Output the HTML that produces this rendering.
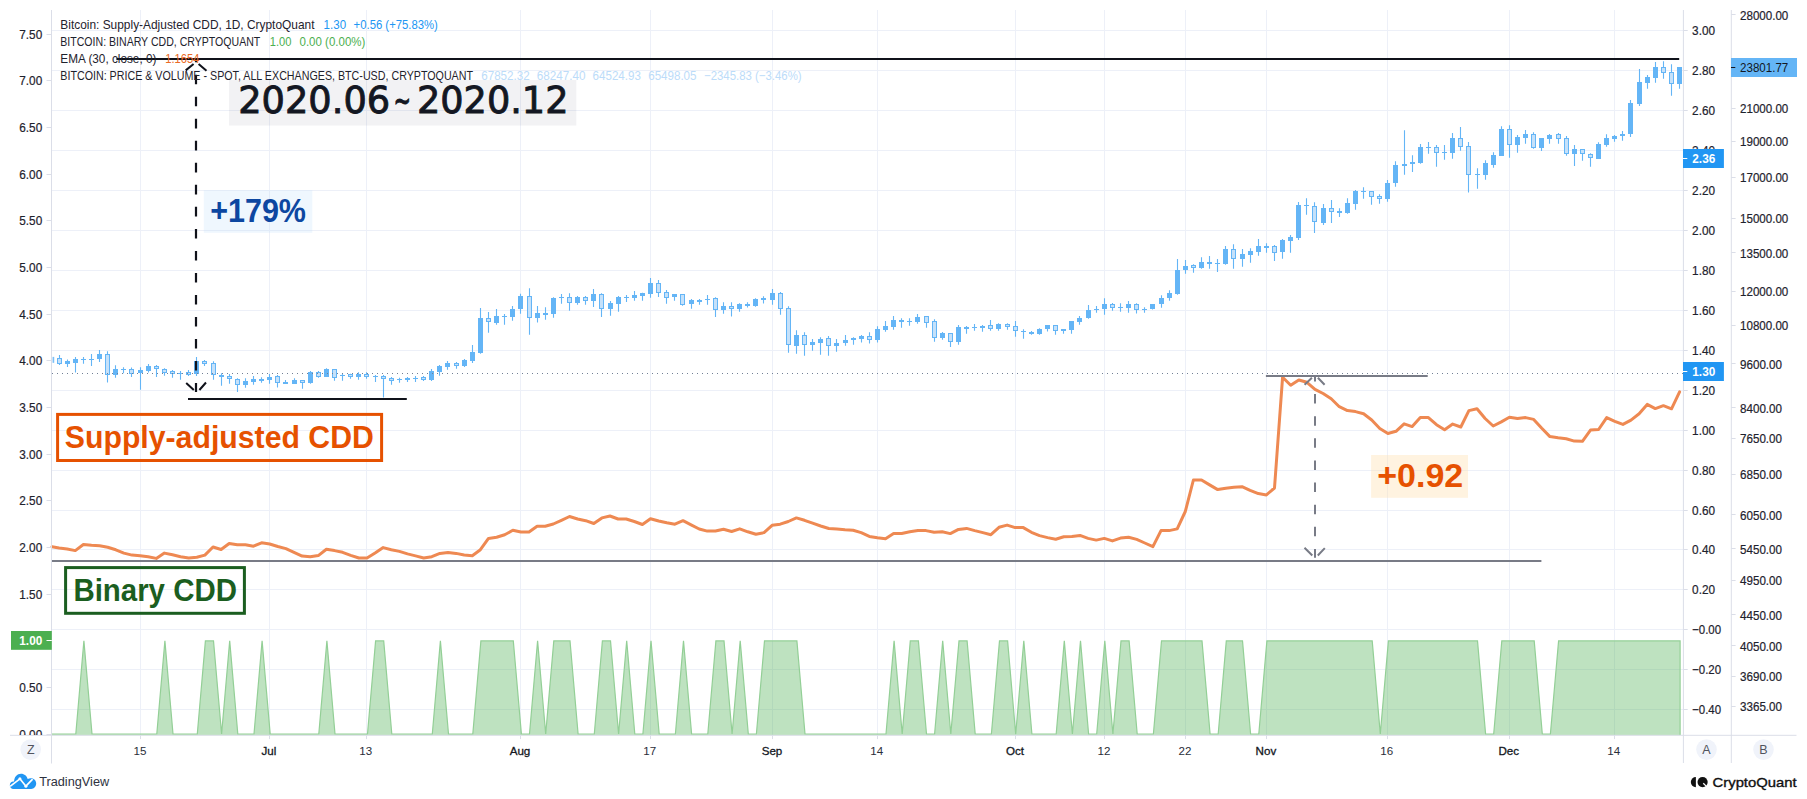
<!DOCTYPE html>
<html lang="en"><head><meta charset="utf-8"><title>Bitcoin: Supply-Adjusted CDD</title>
<style>
html,body{margin:0;padding:0;background:#fff;}
body{width:1807px;height:799px;overflow:hidden;position:relative;font-family:'Liberation Sans', Arial, sans-serif;}
svg{position:absolute;left:0;top:0;display:block}
text{font-family:'Liberation Sans', Arial, sans-serif;}
.ax{font-size:12.6px;fill:#1e222d;stroke:#1e222d;stroke-width:0.2px;}
.lg{font-size:11.5px;fill:#2a2e39;}
</style></head><body>
<svg width="1807" height="799" viewBox="0 0 1807 799">
<rect width="1807" height="799" fill="#fff"/>

<path d="M51.5 30.5H1683.4M51.5 70.5H1683.4M51.5 110.5H1683.4M51.5 150.5H1683.4M51.5 190.5H1683.4M51.5 230.5H1683.4M51.5 270.5H1683.4M51.5 310.5H1683.4M51.5 350.5H1683.4M51.5 390.5H1683.4M51.5 430.5H1683.4M51.5 470.5H1683.4M51.5 510.5H1683.4M51.5 549.5H1683.4M51.5 589.5H1683.4M51.5 629.5H1683.4M51.5 669.5H1683.4M51.5 709.5H1683.4M140.5 10V735.3M269.5 10V735.3M366.5 10V735.3M520.5 10V735.3M650.5 10V735.3M772.5 10V735.3M877.5 10V735.3M1015.5 10V735.3M1104.5 10V735.3M1185.5 10V735.3M1266.5 10V735.3M1387.5 10V735.3M1509.5 10V735.3M1614.5 10V735.3" stroke="#edf0f8" stroke-width="1" fill="none"/>
<path d="M52.0 734.0 L59.6 734.0 L67.7 734.0 L75.8 734.0 L83.9 640.9 L92.0 734.0 L100.1 734.0 L108.2 734.0 L116.3 734.0 L124.4 734.0 L132.5 734.0 L140.6 734.0 L148.7 734.0 L156.8 734.0 L164.9 640.9 L173.0 734.0 L181.1 734.0 L189.2 734.0 L197.3 734.0 L205.4 640.9 L213.5 640.9 L221.6 734.0 L229.7 640.9 L237.8 734.0 L245.9 734.0 L254.0 734.0 L262.1 640.9 L270.2 734.0 L278.3 734.0 L286.4 734.0 L294.5 734.0 L302.6 734.0 L310.7 734.0 L318.8 734.0 L326.9 640.9 L335.0 734.0 L343.1 734.0 L351.2 734.0 L359.4 734.0 L367.5 734.0 L375.6 640.9 L383.7 640.9 L391.8 734.0 L399.9 734.0 L408.0 734.0 L416.1 734.0 L424.2 734.0 L432.3 734.0 L440.4 640.9 L448.5 734.0 L456.6 734.0 L464.7 734.0 L472.8 734.0 L480.9 640.9 L489.0 640.9 L497.1 640.9 L505.2 640.9 L513.3 640.9 L521.4 734.0 L529.5 734.0 L537.6 640.9 L545.7 734.0 L553.8 640.9 L561.9 640.9 L570.0 640.9 L578.1 734.0 L586.2 734.0 L594.3 734.0 L602.4 640.9 L610.5 640.9 L618.6 734.0 L626.7 640.9 L634.8 734.0 L642.9 734.0 L651.0 640.9 L659.2 734.0 L667.3 734.0 L675.4 734.0 L683.5 640.9 L691.6 734.0 L699.7 734.0 L707.8 734.0 L715.9 640.9 L724.0 640.9 L732.1 734.0 L740.2 640.9 L748.3 734.0 L756.4 734.0 L764.5 640.9 L772.6 640.9 L780.7 640.9 L788.8 640.9 L796.9 640.9 L805.0 734.0 L813.1 734.0 L821.2 734.0 L829.3 734.0 L837.4 734.0 L845.5 734.0 L853.6 734.0 L861.7 734.0 L869.8 734.0 L877.9 734.0 L886.0 734.0 L894.1 640.9 L902.2 734.0 L910.3 640.9 L918.4 640.9 L926.5 734.0 L934.6 734.0 L942.7 640.9 L950.8 734.0 L959.0 640.9 L967.1 640.9 L975.2 734.0 L983.3 734.0 L991.4 734.0 L999.5 640.9 L1007.6 640.9 L1015.7 734.0 L1023.8 640.9 L1031.9 734.0 L1040.0 734.0 L1048.1 734.0 L1056.2 734.0 L1064.3 640.9 L1072.4 734.0 L1080.5 640.9 L1088.6 734.0 L1096.7 734.0 L1104.8 640.9 L1112.9 734.0 L1121.0 640.9 L1129.1 640.9 L1137.2 734.0 L1145.3 734.0 L1153.4 734.0 L1161.5 640.9 L1169.6 640.9 L1177.7 640.9 L1185.8 640.9 L1193.9 640.9 L1202.0 640.9 L1210.1 734.0 L1218.2 734.0 L1226.3 640.9 L1234.4 640.9 L1242.5 640.9 L1250.6 734.0 L1258.8 734.0 L1266.9 640.9 L1275.0 640.9 L1283.1 640.9 L1291.2 640.9 L1299.3 640.9 L1307.4 640.9 L1315.5 640.9 L1323.6 640.9 L1331.7 640.9 L1339.8 640.9 L1347.9 640.9 L1356.0 640.9 L1364.1 640.9 L1372.2 640.9 L1380.3 734.0 L1388.4 640.9 L1396.5 640.9 L1404.6 640.9 L1412.7 640.9 L1420.8 640.9 L1428.9 640.9 L1437.0 640.9 L1445.1 640.9 L1453.2 640.9 L1461.3 640.9 L1469.4 640.9 L1477.5 640.9 L1485.6 734.0 L1493.7 734.0 L1501.8 640.9 L1509.9 640.9 L1518.0 640.9 L1526.1 640.9 L1534.2 640.9 L1542.3 734.0 L1550.4 734.0 L1558.6 640.9 L1566.7 640.9 L1574.8 640.9 L1582.9 640.9 L1591.0 640.9 L1599.1 640.9 L1607.2 640.9 L1615.3 640.9 L1623.4 640.9 L1631.5 640.9 L1639.6 640.9 L1647.7 640.9 L1655.8 640.9 L1663.9 640.9 L1672.0 640.9 L1680.1 640.9 L1680.1 735.2 L52.0 735.2Z" fill="#4caf50" fill-opacity="0.36" stroke="none"/>
<path d="M52.0 734.0 L59.6 734.0 L67.7 734.0 L75.8 734.0 L83.9 640.9 L92.0 734.0 L100.1 734.0 L108.2 734.0 L116.3 734.0 L124.4 734.0 L132.5 734.0 L140.6 734.0 L148.7 734.0 L156.8 734.0 L164.9 640.9 L173.0 734.0 L181.1 734.0 L189.2 734.0 L197.3 734.0 L205.4 640.9 L213.5 640.9 L221.6 734.0 L229.7 640.9 L237.8 734.0 L245.9 734.0 L254.0 734.0 L262.1 640.9 L270.2 734.0 L278.3 734.0 L286.4 734.0 L294.5 734.0 L302.6 734.0 L310.7 734.0 L318.8 734.0 L326.9 640.9 L335.0 734.0 L343.1 734.0 L351.2 734.0 L359.4 734.0 L367.5 734.0 L375.6 640.9 L383.7 640.9 L391.8 734.0 L399.9 734.0 L408.0 734.0 L416.1 734.0 L424.2 734.0 L432.3 734.0 L440.4 640.9 L448.5 734.0 L456.6 734.0 L464.7 734.0 L472.8 734.0 L480.9 640.9 L489.0 640.9 L497.1 640.9 L505.2 640.9 L513.3 640.9 L521.4 734.0 L529.5 734.0 L537.6 640.9 L545.7 734.0 L553.8 640.9 L561.9 640.9 L570.0 640.9 L578.1 734.0 L586.2 734.0 L594.3 734.0 L602.4 640.9 L610.5 640.9 L618.6 734.0 L626.7 640.9 L634.8 734.0 L642.9 734.0 L651.0 640.9 L659.2 734.0 L667.3 734.0 L675.4 734.0 L683.5 640.9 L691.6 734.0 L699.7 734.0 L707.8 734.0 L715.9 640.9 L724.0 640.9 L732.1 734.0 L740.2 640.9 L748.3 734.0 L756.4 734.0 L764.5 640.9 L772.6 640.9 L780.7 640.9 L788.8 640.9 L796.9 640.9 L805.0 734.0 L813.1 734.0 L821.2 734.0 L829.3 734.0 L837.4 734.0 L845.5 734.0 L853.6 734.0 L861.7 734.0 L869.8 734.0 L877.9 734.0 L886.0 734.0 L894.1 640.9 L902.2 734.0 L910.3 640.9 L918.4 640.9 L926.5 734.0 L934.6 734.0 L942.7 640.9 L950.8 734.0 L959.0 640.9 L967.1 640.9 L975.2 734.0 L983.3 734.0 L991.4 734.0 L999.5 640.9 L1007.6 640.9 L1015.7 734.0 L1023.8 640.9 L1031.9 734.0 L1040.0 734.0 L1048.1 734.0 L1056.2 734.0 L1064.3 640.9 L1072.4 734.0 L1080.5 640.9 L1088.6 734.0 L1096.7 734.0 L1104.8 640.9 L1112.9 734.0 L1121.0 640.9 L1129.1 640.9 L1137.2 734.0 L1145.3 734.0 L1153.4 734.0 L1161.5 640.9 L1169.6 640.9 L1177.7 640.9 L1185.8 640.9 L1193.9 640.9 L1202.0 640.9 L1210.1 734.0 L1218.2 734.0 L1226.3 640.9 L1234.4 640.9 L1242.5 640.9 L1250.6 734.0 L1258.8 734.0 L1266.9 640.9 L1275.0 640.9 L1283.1 640.9 L1291.2 640.9 L1299.3 640.9 L1307.4 640.9 L1315.5 640.9 L1323.6 640.9 L1331.7 640.9 L1339.8 640.9 L1347.9 640.9 L1356.0 640.9 L1364.1 640.9 L1372.2 640.9 L1380.3 734.0 L1388.4 640.9 L1396.5 640.9 L1404.6 640.9 L1412.7 640.9 L1420.8 640.9 L1428.9 640.9 L1437.0 640.9 L1445.1 640.9 L1453.2 640.9 L1461.3 640.9 L1469.4 640.9 L1477.5 640.9 L1485.6 734.0 L1493.7 734.0 L1501.8 640.9 L1509.9 640.9 L1518.0 640.9 L1526.1 640.9 L1534.2 640.9 L1542.3 734.0 L1550.4 734.0 L1558.6 640.9 L1566.7 640.9 L1574.8 640.9 L1582.9 640.9 L1591.0 640.9 L1599.1 640.9 L1607.2 640.9 L1615.3 640.9 L1623.4 640.9 L1631.5 640.9 L1639.6 640.9 L1647.7 640.9 L1655.8 640.9 L1663.9 640.9 L1672.0 640.9 L1680.1 640.9 L1680.1 735.0" fill="none" stroke="#93cf96" stroke-width="1.2" stroke-linejoin="miter"/>
<path d="M59.5 355.0V365.0M67.5 359.4V366.9M75.5 356.9V372.5M83.5 356.9V363.8M91.5 354.0V366.0M99.5 350.0V361.9M107.5 351.3V382.6M115.5 365.3V377.8M123.5 367.3V373.2M131.5 367.5V376.9M140.5 367.3V389.8M148.5 364.0V372.5M156.5 365.0V376.9M164.5 368.2V375.7M172.5 370.0V377.8M180.5 371.0V379.8M188.5 370.0V376.1M196.5 356.9V376.1M204.5 360.0V366.0M213.5 361.3V379.8M221.5 373.2V385.7M229.5 374.0V383.8M237.5 378.2V391.9M245.5 378.2V387.8M253.5 376.1V384.8M261.5 377.3V382.8M269.5 374.0V383.8M277.5 375.1V387.6M285.5 380.1V383.6M294.5 378.2V383.6M302.5 380.1V388.8M310.5 371.1V383.8M318.5 371.1V377.8M326.5 368.2V376.6M334.5 369.2V380.7M342.5 373.2V380.7M350.5 373.8V378.8M358.5 372.3V379.8M366.5 372.3V378.8M375.5 375.1V382.0M383.5 375.1V397.6M391.5 377.0V384.8M399.5 377.8V382.8M407.5 377.0V382.0M415.5 376.1V382.0M423.5 376.1V381.1M431.5 369.1V381.1M439.5 365.1V375.7M447.5 361.1V369.8M456.5 361.9V368.8M464.5 359.1V366.9M472.5 345.1V362.9M480.5 308.1V353.8M488.5 312.1V332.8M496.5 309.0V324.8M504.5 314.1V324.8M512.5 306.1V320.7M520.5 293.8V313.8M529.5 288.2V334.8M537.5 306.1V322.6M545.5 307.2V319.8M553.5 297.2V317.8M561.5 294.0V303.8M569.5 293.2V310.7M577.5 296.0V304.8M585.5 296.0V304.8M593.5 289.0V306.9M601.5 293.2V316.9M610.5 301.0V315.7M618.5 296.0V311.7M626.5 295.0V301.9M634.5 291.0V300.7M642.5 292.8V300.7M650.5 278.1V297.8M658.5 280.0V296.9M666.5 290.0V303.8M674.5 294.0V300.7M682.5 294.0V305.7M691.5 299.0V308.8M699.5 299.0V304.8M707.5 295.0V304.8M715.5 297.2V316.9M723.5 302.2V313.8M731.5 302.3V316.6M739.5 303.2V311.7M747.5 302.3V307.5M755.5 298.2V306.7M763.5 296.3V303.5M772.5 289.1V304.7M780.5 292.1V314.7M788.5 306.3V352.8M796.5 330.3V353.8M804.5 332.2V355.7M812.5 339.1V350.7M820.5 337.2V354.7M828.5 336.1V355.7M836.5 339.1V351.7M845.5 335.1V345.7M853.5 337.2V344.7M861.5 335.1V342.6M869.5 332.2V343.6M877.5 326.3V342.6M885.5 321.1V331.7M893.5 316.1V329.7M901.5 318.2V327.8M909.5 318.2V325.7M917.5 314.0V323.8M926.5 316.3V327.8M934.5 319.2V341.7M942.5 331.9V339.7M950.5 333.5V347.0M958.5 325.1V344.8M966.5 326.1V333.8M974.5 324.1V330.7M982.5 325.1V331.7M990.5 320.1V330.7M998.5 323.2V330.7M1007.5 323.2V329.7M1015.5 321.1V336.7M1023.5 329.2V338.8M1031.5 331.1V334.8M1039.5 328.2V334.8M1047.5 325.3V331.6M1055.5 325.3V334.7M1063.5 329.5V333.8M1071.5 321.1V333.8M1079.5 316.1V324.7M1088.5 305.1V318.8M1096.5 306.1V312.8M1104.5 298.2V314.8M1112.5 302.9V310.7M1120.5 303.2V311.7M1128.5 301.1V312.8M1136.5 303.2V313.6M1144.5 307.3V312.8M1152.5 304.4V309.4M1161.5 295.3V307.8M1169.5 290.3V300.7M1177.5 259.1V294.8M1185.5 260.1V273.8M1193.5 264.2V272.8M1201.5 257.2V268.8M1209.5 256.1V268.8M1217.5 259.1V271.9M1225.5 246.0V264.8M1233.5 244.2V268.8M1242.5 249.0V266.7M1250.5 248.2V262.8M1258.5 239.0V255.7M1266.5 243.2V252.8M1274.5 245.0V260.9M1282.5 239.0V258.8M1290.5 235.0V252.8M1298.5 202.0V239.9M1306.5 198.2V214.8M1314.5 202.2V232.9M1323.5 204.1V224.9M1331.5 200.1V223.0M1339.5 208.2V217.0M1347.5 198.2V213.8M1355.5 190.1V209.8M1363.5 187.2V198.8M1371.5 191.3V204.7M1379.5 194.2V203.8M1387.5 180.1V201.7M1395.5 161.3V186.7M1404.5 130.3V174.8M1412.5 155.3V171.9M1420.5 144.1V163.8M1428.5 142.1V153.8M1436.5 145.0V166.7M1444.5 145.0V159.8M1452.5 133.1V158.8M1460.5 127.1V150.7M1468.5 142.1V192.6M1477.5 168.2V188.8M1485.5 160.3V179.7M1493.5 152.2V167.8M1501.5 126.3V155.7M1509.5 125.3V157.8M1517.5 135.1V152.8M1525.5 130.0V143.8M1533.5 132.2V148.8M1541.5 138.2V150.9M1549.5 134.0V143.8M1558.5 132.9V143.8M1566.5 136.1V155.7M1574.5 145.1V166.0M1582.5 149.4V160.7M1590.5 153.2V166.7M1598.5 142.2V158.6M1606.5 134.2V146.7M1614.5 135.1V141.7M1622.5 131.0V140.7M1630.5 100.1V137.0M1639.5 69.0V105.9M1647.5 75.0V88.8M1655.5 62.1V82.8M1663.5 61.3V78.8M1671.5 64.2V95.7M1679.5 67.2V88.8" stroke="#64b5f6" stroke-width="1.1" fill="none"/>
<g fill="#64b5f6"><rect x="65.0" y="361.0" width="5" height="3.0"/><rect x="73.0" y="359.0" width="5" height="4.0"/><rect x="81.0" y="359.0" width="5" height="1.0"/><rect x="89.0" y="359.0" width="5" height="1.0"/><rect x="97.0" y="354.0" width="5" height="5.0"/><rect x="113.0" y="369.0" width="5" height="6.0"/><rect x="121.0" y="369.0" width="5" height="1.0"/><rect x="138.0" y="370.0" width="5" height="3.0"/><rect x="146.0" y="366.0" width="5" height="5.0"/><rect x="178.0" y="373.0" width="5" height="1.0"/><rect x="194.0" y="361.0" width="5" height="13.0"/><rect x="243.0" y="381.0" width="5" height="4.0"/><rect x="251.0" y="379.0" width="5" height="3.0"/><rect x="267.0" y="377.0" width="5" height="3.0"/><rect x="283.0" y="382.0" width="5" height="2.0"/><rect x="292.0" y="380.0" width="5" height="4.0"/><rect x="308.0" y="372.0" width="5" height="11.0"/><rect x="324.0" y="369.0" width="5" height="8.0"/><rect x="340.0" y="375.0" width="5" height="1.0"/><rect x="356.0" y="374.0" width="5" height="3.0"/><rect x="373.0" y="376.0" width="5" height="1.0"/><rect x="397.0" y="379.0" width="5" height="1.0"/><rect x="405.0" y="378.0" width="5" height="2.0"/><rect x="413.0" y="378.0" width="5" height="1.0"/><rect x="429.0" y="371.0" width="5" height="9.0"/><rect x="437.0" y="366.0" width="5" height="6.0"/><rect x="445.0" y="363.0" width="5" height="4.0"/><rect x="462.0" y="360.0" width="5" height="6.0"/><rect x="470.0" y="352.0" width="5" height="9.0"/><rect x="478.0" y="318.0" width="5" height="35.0"/><rect x="494.0" y="316.0" width="5" height="7.0"/><rect x="502.0" y="316.0" width="5" height="1.0"/><rect x="510.0" y="309.0" width="5" height="8.0"/><rect x="518.0" y="296.0" width="5" height="13.0"/><rect x="535.0" y="313.0" width="5" height="5.0"/><rect x="543.0" y="313.0" width="5" height="2.0"/><rect x="551.0" y="298.0" width="5" height="16.0"/><rect x="559.0" y="297.0" width="5" height="1.0"/><rect x="575.0" y="297.0" width="5" height="6.0"/><rect x="591.0" y="294.0" width="5" height="7.0"/><rect x="608.0" y="303.0" width="5" height="6.0"/><rect x="616.0" y="297.0" width="5" height="7.0"/><rect x="624.0" y="297.0" width="5" height="1.0"/><rect x="632.0" y="295.0" width="5" height="3.0"/><rect x="640.0" y="293.0" width="5" height="3.0"/><rect x="648.0" y="283.0" width="5" height="11.0"/><rect x="672.0" y="294.0" width="5" height="3.0"/><rect x="689.0" y="300.0" width="5" height="4.0"/><rect x="697.0" y="300.0" width="5" height="2.0"/><rect x="705.0" y="299.0" width="5" height="1.0"/><rect x="721.0" y="306.0" width="5" height="4.0"/><rect x="737.0" y="304.0" width="5" height="5.0"/><rect x="745.0" y="304.0" width="5" height="2.0"/><rect x="753.0" y="299.0" width="5" height="7.0"/><rect x="770.0" y="293.0" width="5" height="7.0"/><rect x="794.0" y="335.0" width="5" height="11.0"/><rect x="810.0" y="342.0" width="5" height="3.0"/><rect x="818.0" y="339.0" width="5" height="4.0"/><rect x="834.0" y="343.0" width="5" height="3.0"/><rect x="843.0" y="340.0" width="5" height="3.0"/><rect x="851.0" y="338.0" width="5" height="2.0"/><rect x="859.0" y="336.0" width="5" height="3.0"/><rect x="875.0" y="329.0" width="5" height="11.0"/><rect x="883.0" y="326.0" width="5" height="4.0"/><rect x="891.0" y="320.0" width="5" height="7.0"/><rect x="899.0" y="320.0" width="5" height="2.0"/><rect x="907.0" y="321.0" width="5" height="1.0"/><rect x="915.0" y="317.0" width="5" height="5.0"/><rect x="940.0" y="333.0" width="5" height="5.0"/><rect x="956.0" y="327.0" width="5" height="15.0"/><rect x="964.0" y="327.0" width="5" height="2.0"/><rect x="972.0" y="327.0" width="5" height="1.0"/><rect x="980.0" y="326.0" width="5" height="2.0"/><rect x="996.0" y="324.0" width="5" height="5.0"/><rect x="1021.0" y="331.0" width="5" height="1.0"/><rect x="1029.0" y="332.0" width="5" height="2.0"/><rect x="1037.0" y="329.0" width="5" height="5.0"/><rect x="1045.0" y="325.0" width="5" height="4.0"/><rect x="1061.0" y="329.0" width="5" height="2.0"/><rect x="1069.0" y="321.0" width="5" height="9.0"/><rect x="1077.0" y="318.0" width="5" height="4.0"/><rect x="1086.0" y="310.0" width="5" height="8.0"/><rect x="1094.0" y="309.0" width="5" height="1.0"/><rect x="1102.0" y="304.0" width="5" height="5.0"/><rect x="1118.0" y="307.0" width="5" height="1.0"/><rect x="1126.0" y="304.0" width="5" height="4.0"/><rect x="1142.0" y="309.0" width="5" height="1.0"/><rect x="1150.0" y="304.0" width="5" height="5.0"/><rect x="1159.0" y="298.0" width="5" height="6.0"/><rect x="1167.0" y="293.0" width="5" height="5.0"/><rect x="1175.0" y="270.0" width="5" height="24.0"/><rect x="1183.0" y="266.0" width="5" height="4.0"/><rect x="1199.0" y="262.0" width="5" height="6.0"/><rect x="1215.0" y="263.0" width="5" height="1.0"/><rect x="1223.0" y="249.0" width="5" height="15.0"/><rect x="1240.0" y="254.0" width="5" height="5.0"/><rect x="1248.0" y="251.0" width="5" height="4.0"/><rect x="1256.0" y="246.0" width="5" height="6.0"/><rect x="1264.0" y="246.0" width="5" height="2.0"/><rect x="1280.0" y="240.0" width="5" height="12.0"/><rect x="1288.0" y="237.0" width="5" height="4.0"/><rect x="1296.0" y="205.0" width="5" height="33.0"/><rect x="1304.0" y="205.0" width="5" height="1.0"/><rect x="1321.0" y="208.0" width="5" height="15.0"/><rect x="1337.0" y="211.0" width="5" height="2.0"/><rect x="1345.0" y="203.0" width="5" height="10.0"/><rect x="1353.0" y="191.0" width="5" height="13.0"/><rect x="1361.0" y="191.0" width="5" height="1.0"/><rect x="1385.0" y="183.0" width="5" height="16.0"/><rect x="1393.0" y="165.0" width="5" height="18.0"/><rect x="1402.0" y="164.0" width="5" height="2.0"/><rect x="1410.0" y="162.0" width="5" height="2.0"/><rect x="1418.0" y="147.0" width="5" height="16.0"/><rect x="1426.0" y="147.0" width="5" height="1.0"/><rect x="1442.0" y="152.0" width="5" height="1.0"/><rect x="1450.0" y="138.0" width="5" height="15.0"/><rect x="1475.0" y="174.0" width="5" height="1.0"/><rect x="1483.0" y="163.0" width="5" height="12.0"/><rect x="1491.0" y="155.0" width="5" height="10.0"/><rect x="1499.0" y="129.0" width="5" height="27.0"/><rect x="1515.0" y="137.0" width="5" height="8.0"/><rect x="1523.0" y="134.0" width="5" height="4.0"/><rect x="1539.0" y="138.0" width="5" height="10.0"/><rect x="1547.0" y="135.0" width="5" height="4.0"/><rect x="1572.0" y="149.0" width="5" height="5.0"/><rect x="1596.0" y="144.0" width="5" height="15.0"/><rect x="1604.0" y="138.0" width="5" height="7.0"/><rect x="1612.0" y="136.0" width="5" height="3.0"/><rect x="1620.0" y="134.0" width="5" height="2.0"/><rect x="1628.0" y="103.0" width="5" height="31.0"/><rect x="1637.0" y="82.0" width="5" height="22.0"/><rect x="1645.0" y="77.0" width="5" height="6.0"/><rect x="1653.0" y="67.0" width="5" height="11.0"/><rect x="1677.0" y="67.0" width="5" height="17.0"/></g>
<g fill="#c5e1fa" stroke="#64b5f6" stroke-width="1"><rect x="57.5" y="358.5" width="4" height="5.0"/><rect x="105.5" y="354.5" width="4" height="20.0"/><rect x="129.5" y="369.5" width="4" height="4.0"/><rect x="154.5" y="366.5" width="4" height="2.0"/><rect x="162.5" y="369.5" width="4" height="3.0"/><rect x="170.5" y="371.5" width="4" height="2.0"/><rect x="186.5" y="372.5" width="4" height="2.0"/><rect x="202.5" y="361.5" width="4" height="2.0"/><rect x="211.5" y="363.5" width="4" height="11.0"/><rect x="219.5" y="375.5" width="4" height="1.0"/><rect x="227.5" y="376.5" width="4" height="2.0"/><rect x="235.5" y="379.5" width="4" height="5.0"/><rect x="259.5" y="379.5" width="4" height="1.0"/><rect x="275.5" y="376.5" width="4" height="6.0"/><rect x="300.5" y="380.5" width="4" height="2.0"/><rect x="316.5" y="372.5" width="4" height="4.0"/><rect x="332.5" y="369.5" width="4" height="8.0"/><rect x="348.5" y="374.5" width="4" height="2.0"/><rect x="364.5" y="374.5" width="4" height="2.0"/><rect x="381.5" y="376.5" width="4" height="2.0"/><rect x="389.5" y="378.5" width="4" height="2.0"/><rect x="421.5" y="377.5" width="4" height="2.0"/><rect x="454.5" y="363.5" width="4" height="2.0"/><rect x="486.5" y="318.5" width="4" height="3.0"/><rect x="527.5" y="296.5" width="4" height="21.0"/><rect x="567.5" y="297.5" width="4" height="5.0"/><rect x="583.5" y="297.5" width="4" height="3.0"/><rect x="599.5" y="294.5" width="4" height="14.0"/><rect x="656.5" y="283.5" width="4" height="9.0"/><rect x="664.5" y="292.5" width="4" height="5.0"/><rect x="680.5" y="294.5" width="4" height="10.0"/><rect x="713.5" y="298.5" width="4" height="11.0"/><rect x="729.5" y="306.5" width="4" height="2.0"/><rect x="761.5" y="298.5" width="4" height="1.0"/><rect x="778.5" y="293.5" width="4" height="15.0"/><rect x="786.5" y="308.5" width="4" height="36.0"/><rect x="802.5" y="335.5" width="4" height="9.0"/><rect x="826.5" y="338.5" width="4" height="7.0"/><rect x="867.5" y="336.5" width="4" height="3.0"/><rect x="924.5" y="316.5" width="4" height="6.0"/><rect x="932.5" y="321.5" width="4" height="16.0"/><rect x="948.5" y="333.5" width="4" height="8.0"/><rect x="988.5" y="325.5" width="4" height="3.0"/><rect x="1005.5" y="324.5" width="4" height="2.0"/><rect x="1013.5" y="326.5" width="4" height="4.0"/><rect x="1053.5" y="325.5" width="4" height="5.0"/><rect x="1110.5" y="304.5" width="4" height="3.0"/><rect x="1134.5" y="304.5" width="4" height="5.0"/><rect x="1191.5" y="265.5" width="4" height="2.0"/><rect x="1207.5" y="262.5" width="4" height="1.0"/><rect x="1231.5" y="249.5" width="4" height="9.0"/><rect x="1272.5" y="246.5" width="4" height="6.0"/><rect x="1312.5" y="206.5" width="4" height="15.0"/><rect x="1329.5" y="208.5" width="4" height="3.0"/><rect x="1369.5" y="191.5" width="4" height="5.0"/><rect x="1377.5" y="196.5" width="4" height="2.0"/><rect x="1434.5" y="147.5" width="4" height="5.0"/><rect x="1458.5" y="138.5" width="4" height="8.0"/><rect x="1466.5" y="146.5" width="4" height="28.0"/><rect x="1507.5" y="129.5" width="4" height="15.0"/><rect x="1531.5" y="134.5" width="4" height="13.0"/><rect x="1556.5" y="134.5" width="4" height="4.0"/><rect x="1564.5" y="138.5" width="4" height="15.0"/><rect x="1580.5" y="149.5" width="4" height="4.0"/><rect x="1588.5" y="154.5" width="4" height="3.0"/><rect x="1661.5" y="67.5" width="4" height="5.0"/><rect x="1669.5" y="72.5" width="4" height="11.0"/></g>
<rect x="52.0" y="356.9" width="1.6" height="5.9" fill="#c5e1fa" stroke="none"/><path d="M53.7 356.9V362.8" stroke="#64b5f6" stroke-width="1"/>
<path d="M52 373.5H1683.4" stroke="#728095" stroke-width="1" stroke-dasharray="1 4" fill="none"/>
<path d="M52.0 546.8 L59.1 548.1 L67.2 549.0 L75.3 550.6 L83.4 544.5 L91.5 545.3 L99.6 545.7 L107.7 547.3 L115.8 549.8 L123.9 553.1 L132.0 555.1 L140.1 555.8 L148.2 556.8 L156.3 558.4 L164.4 553.1 L172.5 554.8 L180.6 556.8 L188.7 558.1 L196.8 557.3 L204.9 555.1 L213.0 547.0 L221.1 549.5 L229.2 543.5 L237.3 544.8 L245.4 544.8 L253.5 546.2 L261.6 542.8 L269.7 544.0 L277.8 546.5 L285.9 548.6 L294.0 552.3 L302.1 556.1 L310.2 556.8 L318.3 555.6 L326.4 549.3 L334.5 550.6 L342.6 552.3 L350.7 555.3 L358.9 558.0 L367.0 558.0 L375.1 553.0 L383.2 547.6 L391.3 549.7 L399.4 551.4 L407.5 553.9 L415.6 555.9 L423.7 558.0 L431.8 556.7 L439.9 553.4 L448.0 552.6 L456.1 553.4 L464.2 555.0 L472.3 555.7 L480.4 549.7 L488.5 538.4 L496.6 537.3 L504.7 534.8 L512.8 530.3 L520.9 532.0 L529.0 532.0 L537.1 526.2 L545.2 526.2 L553.3 524.0 L561.4 520.3 L569.5 516.5 L577.6 519.0 L585.7 520.7 L593.8 523.5 L601.9 517.9 L610.0 516.0 L618.1 519.0 L626.2 519.0 L634.3 521.5 L642.4 524.5 L650.5 518.7 L658.7 521.0 L666.8 522.8 L674.9 524.2 L683.0 520.7 L691.1 524.8 L699.2 529.0 L707.3 531.1 L715.4 531.0 L723.5 529.3 L731.6 531.5 L739.7 528.8 L747.8 531.8 L755.9 534.3 L764.0 532.6 L772.1 525.3 L780.2 524.2 L788.3 521.5 L796.4 517.9 L804.5 520.3 L812.6 523.2 L820.7 526.0 L828.8 528.5 L836.9 529.1 L845.0 529.8 L853.1 530.3 L861.2 532.6 L869.3 536.4 L877.4 537.8 L885.5 538.8 L893.6 533.6 L901.7 533.5 L909.8 531.8 L917.9 530.6 L926.0 530.6 L934.1 532.3 L942.2 531.8 L950.3 533.6 L958.5 529.4 L966.6 528.4 L974.7 530.6 L982.8 532.6 L990.9 534.7 L999.0 527.3 L1007.1 525.1 L1015.2 527.6 L1023.3 527.6 L1031.4 532.3 L1039.5 535.6 L1047.6 537.6 L1055.7 539.2 L1063.8 536.7 L1071.9 536.4 L1080.0 535.4 L1088.1 538.4 L1096.2 540.1 L1104.3 538.4 L1112.4 540.9 L1120.5 538.1 L1128.6 537.2 L1136.7 539.4 L1144.8 543.0 L1152.9 546.7 L1161.0 530.6 L1169.1 530.6 L1177.2 528.9 L1185.3 511.5 L1193.4 480.0 L1201.5 480.0 L1209.6 484.9 L1217.7 489.6 L1225.8 488.3 L1233.9 487.3 L1242.0 486.7 L1250.1 490.4 L1258.3 493.6 L1266.4 494.9 L1274.5 488.0 L1282.6 377.2 L1290.7 385.3 L1298.8 380.0 L1306.9 382.3 L1315.0 389.4 L1323.1 393.5 L1331.2 398.8 L1339.3 406.7 L1347.4 410.6 L1355.5 411.6 L1363.6 413.8 L1371.7 420.0 L1379.8 428.5 L1387.9 433.5 L1396.0 431.3 L1404.1 423.8 L1412.2 426.6 L1420.3 417.6 L1428.4 417.6 L1436.5 424.7 L1444.6 429.8 L1452.7 424.1 L1460.8 427.0 L1468.9 410.6 L1477.0 408.7 L1485.1 418.5 L1493.2 426.0 L1501.3 421.9 L1509.4 417.3 L1517.5 418.6 L1525.6 417.6 L1533.7 419.4 L1541.8 428.2 L1549.9 436.6 L1558.1 437.8 L1566.2 438.8 L1574.3 441.1 L1582.4 441.3 L1590.5 430.1 L1598.6 429.5 L1606.7 417.6 L1614.8 421.3 L1622.9 424.4 L1631.0 420.1 L1639.1 413.8 L1647.2 404.4 L1655.3 408.6 L1663.4 405.7 L1671.5 408.8 L1679.6 391.9" fill="none" stroke="#ee8952" stroke-width="3" stroke-linejoin="round" stroke-linecap="round"/>
<path d="M52.0 561H1541.4" stroke="#787b86" stroke-width="2" fill="none"/>
<path d="M1265.9 376H1427.7" stroke="#787b86" stroke-width="2" fill="none"/>
<path d="M1315 376V557.7" stroke="#787b86" stroke-width="2" stroke-dasharray="9.5 12.62" stroke-dashoffset="4.06" fill="none"/>
<path d="M1304.6 384.8L1311.9 377.8M1317.9 377.8L1324.6 384.7M1304.5 547.7L1312.3 555.5M1317.8 555.5L1324.8 548.1" stroke="#787b86" stroke-width="2" fill="none"/>
<path d="M116.4 59H1679.2" stroke="#10121a" stroke-width="2" fill="none"/>
<path d="M188 399H406.8" stroke="#10121a" stroke-width="2" fill="none"/>
<path d="M196 59V392" stroke="#10121a" stroke-width="2.2" stroke-dasharray="9.6 12.42" stroke-dashoffset="6.27" fill="none"/>
<path d="M185.7 70.4L193.6 64M198.6 64L206.5 70.8M186.2 383.1L193.8 390M199.4 390L206 382.5" stroke="#10121a" stroke-width="2" fill="none"/>
<path d="M51.5 10V763.5M1683.4 10V763M1731.3 10V763M10 735.3H1796.5" stroke="#dbdee8" stroke-width="1" fill="none"/>
<path d="M46.5 34.5H51.5M46.5 80.5H51.5M46.5 127.5H51.5M46.5 174.5H51.5M46.5 220.5H51.5M46.5 267.5H51.5M46.5 314.5H51.5M46.5 360.5H51.5M46.5 407.5H51.5M46.5 454.5H51.5M46.5 500.5H51.5M46.5 547.5H51.5M46.5 594.5H51.5M46.5 687.5H51.5M46.5 734.5H51.5" stroke="#dbdee8" stroke-width="1" fill="none"/>
<clipPath id="cl"><rect x="0" y="0" width="52" height="735"/></clipPath>
<g class="ax" clip-path="url(#cl)">
<text x="19.3" y="39.0" textLength="22.9" lengthAdjust="spacingAndGlyphs">7.50</text>
<text x="19.3" y="85.0" textLength="22.9" lengthAdjust="spacingAndGlyphs">7.00</text>
<text x="19.3" y="132.0" textLength="22.9" lengthAdjust="spacingAndGlyphs">6.50</text>
<text x="19.3" y="179.0" textLength="22.9" lengthAdjust="spacingAndGlyphs">6.00</text>
<text x="19.3" y="225.0" textLength="22.9" lengthAdjust="spacingAndGlyphs">5.50</text>
<text x="19.3" y="272.0" textLength="22.9" lengthAdjust="spacingAndGlyphs">5.00</text>
<text x="19.3" y="319.0" textLength="22.9" lengthAdjust="spacingAndGlyphs">4.50</text>
<text x="19.3" y="365.0" textLength="22.9" lengthAdjust="spacingAndGlyphs">4.00</text>
<text x="19.3" y="412.0" textLength="22.9" lengthAdjust="spacingAndGlyphs">3.50</text>
<text x="19.3" y="459.0" textLength="22.9" lengthAdjust="spacingAndGlyphs">3.00</text>
<text x="19.3" y="505.0" textLength="22.9" lengthAdjust="spacingAndGlyphs">2.50</text>
<text x="19.3" y="552.0" textLength="22.9" lengthAdjust="spacingAndGlyphs">2.00</text>
<text x="19.3" y="599.0" textLength="22.9" lengthAdjust="spacingAndGlyphs">1.50</text>
<text x="19.3" y="692.0" textLength="22.9" lengthAdjust="spacingAndGlyphs">0.50</text>
<text x="19.3" y="739.0" textLength="22.9" lengthAdjust="spacingAndGlyphs">0.00</text>
</g>
<rect x="11" y="631" width="40.8" height="18.8" fill="#4caf50"/><path d="M46.5 640.5H51.8" stroke="#fff" stroke-width="1"/>
<text x="19.3" y="645.1" font-size="12.6" font-weight="bold" fill="#fff" textLength="23" lengthAdjust="spacingAndGlyphs">1.00</text>
<path d="M1683.4 30.5h4.3M1683.4 70.5h4.3M1683.4 110.5h4.3M1683.4 150.5h4.3M1683.4 190.5h4.3M1683.4 230.5h4.3M1683.4 270.5h4.3M1683.4 310.5h4.3M1683.4 350.5h4.3M1683.4 390.5h4.3M1683.4 430.5h4.3M1683.4 470.5h4.3M1683.4 510.5h4.3M1683.4 549.5h4.3M1683.4 589.5h4.3M1683.4 629.5h4.3M1683.4 669.5h4.3M1683.4 709.5h4.3" stroke="#dbdee8" stroke-width="1" fill="none"/>
<g class="ax">
<text x="1692.1" y="35.0" textLength="22.9" lengthAdjust="spacingAndGlyphs">3.00</text>
<text x="1692.1" y="75.0" textLength="22.9" lengthAdjust="spacingAndGlyphs">2.80</text>
<text x="1692.1" y="115.0" textLength="22.9" lengthAdjust="spacingAndGlyphs">2.60</text>
<text x="1692.1" y="155.0" textLength="22.9" lengthAdjust="spacingAndGlyphs">2.40</text>
<text x="1692.1" y="195.0" textLength="22.9" lengthAdjust="spacingAndGlyphs">2.20</text>
<text x="1692.1" y="235.0" textLength="22.9" lengthAdjust="spacingAndGlyphs">2.00</text>
<text x="1692.1" y="275.0" textLength="22.9" lengthAdjust="spacingAndGlyphs">1.80</text>
<text x="1692.1" y="315.0" textLength="22.9" lengthAdjust="spacingAndGlyphs">1.60</text>
<text x="1692.1" y="355.0" textLength="22.9" lengthAdjust="spacingAndGlyphs">1.40</text>
<text x="1692.1" y="395.0" textLength="22.9" lengthAdjust="spacingAndGlyphs">1.20</text>
<text x="1692.1" y="435.0" textLength="22.9" lengthAdjust="spacingAndGlyphs">1.00</text>
<text x="1692.1" y="475.0" textLength="22.9" lengthAdjust="spacingAndGlyphs">0.80</text>
<text x="1692.1" y="515.0" textLength="22.9" lengthAdjust="spacingAndGlyphs">0.60</text>
<text x="1692.1" y="554.0" textLength="22.9" lengthAdjust="spacingAndGlyphs">0.40</text>
<text x="1692.1" y="594.0" textLength="22.9" lengthAdjust="spacingAndGlyphs">0.20</text>
<text x="1692.1" y="634.0" textLength="29" lengthAdjust="spacingAndGlyphs">−0.00</text>
<text x="1692.1" y="674.0" textLength="29" lengthAdjust="spacingAndGlyphs">−0.20</text>
<text x="1692.1" y="714.0" textLength="29" lengthAdjust="spacingAndGlyphs">−0.40</text>
</g>
<rect x="1683" y="149" width="40.9" height="19" fill="#2196f3"/><path d="M1683 158.5h4.3" stroke="#fff" stroke-width="1"/>
<text x="1692.3" y="163" font-size="12.6" font-weight="bold" fill="#fff" textLength="23" lengthAdjust="spacingAndGlyphs">2.36</text>
<rect x="1683" y="362" width="40.9" height="19" fill="#2196f3"/><path d="M1683 371.5h4.3" stroke="#fff" stroke-width="1"/>
<text x="1692.3" y="376" font-size="12.6" font-weight="bold" fill="#fff" textLength="23" lengthAdjust="spacingAndGlyphs">1.30</text>
<path d="M1731.3 14.5h4.3M1731.3 108.5h4.3M1731.3 141.5h4.3M1731.3 177.5h4.3M1731.3 218.5h4.3M1731.3 252.5h4.3M1731.3 291.5h4.3M1731.3 325.5h4.3M1731.3 363.5h4.3M1731.3 407.5h4.3M1731.3 438.5h4.3M1731.3 474.5h4.3M1731.3 514.5h4.3M1731.3 548.5h4.3M1731.3 580.5h4.3M1731.3 614.5h4.3M1731.3 645.5h4.3M1731.3 676.5h4.3M1731.3 706.5h4.3" stroke="#dbdee8" stroke-width="1" fill="none"/>
<g class="ax">
<text x="1740" y="19.5" textLength="48.3" lengthAdjust="spacingAndGlyphs">28000.00</text>
<text x="1740" y="113.4" textLength="48.3" lengthAdjust="spacingAndGlyphs">21000.00</text>
<text x="1740" y="146.1" textLength="48.3" lengthAdjust="spacingAndGlyphs">19000.00</text>
<text x="1740" y="182.4" textLength="48.3" lengthAdjust="spacingAndGlyphs">17000.00</text>
<text x="1740" y="223.2" textLength="48.3" lengthAdjust="spacingAndGlyphs">15000.00</text>
<text x="1740" y="257.6" textLength="48.3" lengthAdjust="spacingAndGlyphs">13500.00</text>
<text x="1740" y="296.1" textLength="48.3" lengthAdjust="spacingAndGlyphs">12000.00</text>
<text x="1740" y="330.4" textLength="48.3" lengthAdjust="spacingAndGlyphs">10800.00</text>
<text x="1740" y="368.9" textLength="42" lengthAdjust="spacingAndGlyphs">9600.00</text>
<text x="1740" y="412.5" textLength="42" lengthAdjust="spacingAndGlyphs">8400.00</text>
<text x="1740" y="443.0" textLength="42" lengthAdjust="spacingAndGlyphs">7650.00</text>
<text x="1740" y="479.1" textLength="42" lengthAdjust="spacingAndGlyphs">6850.00</text>
<text x="1740" y="519.6" textLength="42" lengthAdjust="spacingAndGlyphs">6050.00</text>
<text x="1740" y="553.7" textLength="42" lengthAdjust="spacingAndGlyphs">5450.00</text>
<text x="1740" y="585.1" textLength="42" lengthAdjust="spacingAndGlyphs">4950.00</text>
<text x="1740" y="619.8" textLength="42" lengthAdjust="spacingAndGlyphs">4450.00</text>
<text x="1740" y="650.6" textLength="42" lengthAdjust="spacingAndGlyphs">4050.00</text>
<text x="1740" y="681.0" textLength="42" lengthAdjust="spacingAndGlyphs">3690.00</text>
<text x="1740" y="711.1" textLength="42" lengthAdjust="spacingAndGlyphs">3365.00</text>
</g>
<rect x="1731" y="58" width="66" height="19" fill="#64b5f6"/><path d="M1731 67.5h4.3" stroke="#131722" stroke-width="1"/>
<text x="1740" y="72" font-size="12.6" fill="#131722" textLength="48.3" lengthAdjust="spacingAndGlyphs">23801.77</text>
<path d="M140.5 735.3v3.8M269.5 735.3v3.8M366.5 735.3v3.8M520.5 735.3v3.8M650.5 735.3v3.8M772.5 735.3v3.8M877.5 735.3v3.8M1015.5 735.3v3.8M1104.5 735.3v3.8M1185.5 735.3v3.8M1266.5 735.3v3.8M1387.5 735.3v3.8M1509.5 735.3v3.8M1614.5 735.3v3.8" stroke="#dbdee8" stroke-width="1" fill="none"/>
<text x="139.9" y="755" text-anchor="middle" font-size="11.6" fill="#2a2e39">15</text>
<text x="268.9" y="755" text-anchor="middle" font-size="11.6" fill="#131722" stroke="#131722" stroke-width="0.3">Jul</text>
<text x="365.7" y="755" text-anchor="middle" font-size="11.6" fill="#2a2e39">13</text>
<text x="520.0" y="755" text-anchor="middle" font-size="11.6" fill="#131722" stroke="#131722" stroke-width="0.3">Aug</text>
<text x="649.8" y="755" text-anchor="middle" font-size="11.6" fill="#2a2e39">17</text>
<text x="772.0" y="755" text-anchor="middle" font-size="11.6" fill="#131722" stroke="#131722" stroke-width="0.3">Sep</text>
<text x="876.8" y="755" text-anchor="middle" font-size="11.6" fill="#2a2e39">14</text>
<text x="1014.9" y="755" text-anchor="middle" font-size="11.6" fill="#131722" stroke="#131722" stroke-width="0.3">Oct</text>
<text x="1103.9" y="755" text-anchor="middle" font-size="11.6" fill="#2a2e39">12</text>
<text x="1185.0" y="755" text-anchor="middle" font-size="11.6" fill="#2a2e39">22</text>
<text x="1265.9" y="755" text-anchor="middle" font-size="11.6" fill="#131722" stroke="#131722" stroke-width="0.3">Nov</text>
<text x="1386.7" y="755" text-anchor="middle" font-size="11.6" fill="#2a2e39">16</text>
<text x="1508.7" y="755" text-anchor="middle" font-size="11.6" fill="#131722" stroke="#131722" stroke-width="0.3">Dec</text>
<text x="1613.8" y="755" text-anchor="middle" font-size="11.6" fill="#2a2e39">14</text>
<circle cx="30.7" cy="749.6" r="10.3" fill="#f0f3fa"/><text x="30.7" y="754" text-anchor="middle" font-size="12.5" fill="#50535e">Z</text>
<circle cx="1706.5" cy="749.6" r="10.3" fill="#f0f3fa"/><text x="1706.5" y="754" text-anchor="middle" font-size="12.5" fill="#50535e">A</text>
<circle cx="1763.5" cy="749.6" r="10.3" fill="#f0f3fa"/><text x="1763.5" y="754" text-anchor="middle" font-size="12.5" fill="#50535e">B</text>
<text x="60.3" y="28.6" textLength="254.2" lengthAdjust="spacingAndGlyphs" fill="#1e222d" font-size="12.4" >Bitcoin: Supply-Adjusted CDD, 1D, CryptoQuant</text>
<text x="323.6" y="28.6" textLength="22.5" lengthAdjust="spacingAndGlyphs" fill="#2196f3" font-size="12.4" >1.30</text>
<text x="353.6" y="28.6" textLength="84.3" lengthAdjust="spacingAndGlyphs" fill="#2196f3" font-size="12.4" >+0.56 (+75.83%)</text>
<text x="60.3" y="45.7" textLength="200" lengthAdjust="spacingAndGlyphs" fill="#1e222d" font-size="12.4" >BITCOIN: BINARY CDD, CRYPTOQUANT</text>
<text x="269.8" y="45.7" textLength="21.7" lengthAdjust="spacingAndGlyphs" fill="#4caf50" font-size="12.4" >1.00</text>
<text x="299.5" y="45.7" textLength="65.9" lengthAdjust="spacingAndGlyphs" fill="#4caf50" font-size="12.4" >0.00 (0.00%)</text>
<text x="60.3" y="62.7" textLength="96.1" lengthAdjust="spacingAndGlyphs" fill="#1e222d" font-size="12.4" >EMA (30, close, 0)</text>
<text x="165.2" y="62.7" textLength="34.2" lengthAdjust="spacingAndGlyphs" fill="#ea6a25" font-size="12.4" >1.1654</text>
<text x="60.3" y="79.5" textLength="412.7" lengthAdjust="spacingAndGlyphs" fill="#1e222d" font-size="12.4" >BITCOIN: PRICE &amp; VOLUME - SPOT, ALL EXCHANGES, BTC-USD, CRYPTOQUANT</text>
<text x="481.3" y="79.5" textLength="48.3" lengthAdjust="spacingAndGlyphs" fill="#bcdcf9" font-size="12.4" >67852.32</text>
<text x="536.8" y="79.5" textLength="48.8" lengthAdjust="spacingAndGlyphs" fill="#bcdcf9" font-size="12.4" >68247.40</text>
<text x="592.6" y="79.5" textLength="48.3" lengthAdjust="spacingAndGlyphs" fill="#bcdcf9" font-size="12.4" >64524.93</text>
<text x="648.2" y="79.5" textLength="48.3" lengthAdjust="spacingAndGlyphs" fill="#bcdcf9" font-size="12.4" >65498.05</text>
<text x="704" y="79.5" textLength="97.6" lengthAdjust="spacingAndGlyphs" fill="#bcdcf9" font-size="12.4" >−2345.83 (−3.46%)</text>
<rect x="229" y="80" width="347.3" height="45.5" fill="#83838f" fill-opacity="0.1"/>
<text y="113" style="font-family:'DejaVu Sans',sans-serif" font-size="37" fill="#131722" stroke="#131722" stroke-width="0.9"><tspan x="238.2" textLength="152" lengthAdjust="spacingAndGlyphs">2020.06</tspan><tspan x="393.6" textLength="17.5" lengthAdjust="spacingAndGlyphs">~</tspan><tspan x="417" textLength="151.5" lengthAdjust="spacingAndGlyphs">2020.12</tspan></text>
<rect x="203.8" y="190.2" width="108.5" height="42.6" fill="#bbdefb" fill-opacity="0.24"/>
<text x="210.2" y="222.4" font-size="32.5" font-weight="bold" fill="#0d47a1" textLength="95.8" lengthAdjust="spacingAndGlyphs">+179%</text>
<rect x="1371.1" y="455" width="96.9" height="42.8" fill="#ffe0b2" fill-opacity="0.4"/>
<text x="1377.2" y="487.4" font-size="32.5" font-weight="bold" fill="#e65100" textLength="86" lengthAdjust="spacingAndGlyphs">+0.92</text>
<rect x="57.6" y="414.4" width="324" height="46.1" fill="none" stroke="#e65100" stroke-width="3"/>
<text x="64.8" y="447.6" font-size="32" font-weight="bold" fill="#e65100" textLength="309" lengthAdjust="spacingAndGlyphs">Supply-adjusted CDD</text>
<rect x="65.6" y="567.6" width="178.8" height="45.7" fill="none" stroke="#1b5e20" stroke-width="3"/>
<text x="73.4" y="600.6" font-size="32" font-weight="bold" fill="#1b5e20" textLength="163.5" lengthAdjust="spacingAndGlyphs">Binary CDD</text>
<g transform="translate(9.8,773.6)">
<path d="M3.6 15.3 C1.4 15.3 0 13.6 0 11.6 C0 9.3 1.9 7.5 4.3 7.9 C4.3 3.6 7.4 0.2 11.2 0.2 C14.6 0.2 17.2 2.6 17.9 5.4 C18.8 4.9 20 4.6 21.2 4.6 C24.2 4.6 26.4 7 26.4 10 C26.4 13 24.2 15.3 21.4 15.3 Z" fill="#2196f3"/>
<path d="M0.3 12.8 L10.1 5.2 L16.1 12.6 L22.8 5.6" fill="none" stroke="#fff" stroke-width="1.7" stroke-linejoin="round"/>
<circle cx="10.1" cy="5.2" r="1.5" fill="#fff"/><circle cx="16.1" cy="12.6" r="1.5" fill="#fff"/>
</g>
<text x="39.2" y="785.6" font-size="12.3" fill="#2e323e" textLength="70" lengthAdjust="spacingAndGlyphs">TradingView</text>
<g fill="#111">
<path d="M1695.9 777 A5.1 5.1 0 0 0 1695.9 787.2Z"/>
<circle cx="1702.6" cy="782.1" r="5.1"/>
<path d="M1703.3 783.3 L1707.6 787.6" stroke="#fff" stroke-width="1.3" fill="none"/>
</g>
<text x="1712.6" y="786.9" font-size="13" fill="#111" stroke="#111" stroke-width="0.35" textLength="84" lengthAdjust="spacingAndGlyphs">CryptoQuant</text>
</svg></body></html>
